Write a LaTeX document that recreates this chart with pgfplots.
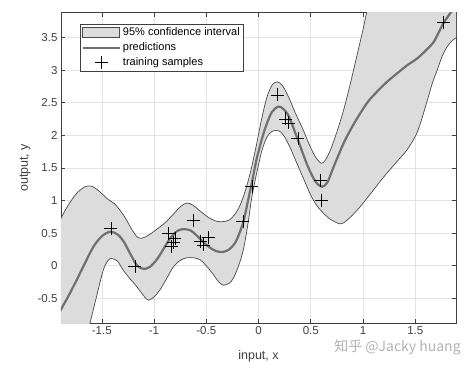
\documentclass[border=0pt]{standalone}
\usepackage{pgfplots}
\pgfplotsset{compat=1.18}
\usepgfplotslibrary{fillbetween}
\usepackage{fontspec}
\setmainfont{Liberation Sans}
\newfontfamily\cjk{Noto Sans CJK SC}
\definecolor{bandfill}{HTML}{DCDCDC}
\definecolor{bandedge}{HTML}{4A4A4A}
\definecolor{meancol}{HTML}{707070}
\definecolor{axcol}{HTML}{404040}
\definecolor{gridcol}{HTML}{E3E3E3}

\pgfplotstableread{
x y
-1.95 0.55
-1.90 0.70
-1.82 0.93
-1.74 1.11
-1.66 1.21
-1.60 1.22
-1.53 1.15
-1.45 1.03
-1.38 0.95
-1.33 0.86
-1.27 0.72
-1.21 0.55
-1.16 0.44
-1.12 0.42
-1.06 0.46
-0.98 0.55
-0.90 0.65
-0.82 0.78
-0.75 0.90
-0.69 0.96
-0.63 0.93
-0.56 0.84
-0.48 0.74
-0.40 0.68
-0.34 0.675
-0.28 0.70
-0.22 0.80
-0.17 0.95
-0.12 1.18
-0.07 1.48
-0.02 1.85
0.03 2.25
0.08 2.58
0.13 2.77
0.18 2.82
0.23 2.76
0.29 2.58
0.35 2.35
0.42 2.11
0.48 1.88
0.54 1.68
0.60 1.57
0.64 1.62
0.69 1.78
0.75 2.05
0.815 2.39
0.88 2.80
0.94 3.21
1.00 3.62
1.04 3.92
1.10 4.30
1.20 4.70
1.40 5.10
1.60 5.40
1.80 5.60
1.95 5.70
}\bandhi

\pgfplotstableread{
x y
-1.95 -2.60
-1.85 -2.15
-1.75 -1.60
-1.65 -1.10
-1.613 -0.885
-1.55 -0.475
-1.486 -0.07
-1.44 0.08
-1.406 0.11
-1.35 0.07
-1.294 -0.07
-1.23 -0.20
-1.166 -0.32
-1.10 -0.46
-1.055 -0.53
-1.00 -0.48
-0.942 -0.37
-0.88 -0.20
-0.815 -0.02
-0.75 0.08
-0.687 0.12
-0.62 0.12
-0.559 0.09
-0.50 0.00
-0.431 -0.14
-0.38 -0.25
-0.336 -0.30
-0.28 -0.27
-0.24 -0.19
-0.19 0.00
-0.144 0.25
-0.10 0.65
-0.064 1.05
-0.02 1.40
0.03 1.75
0.08 1.97
0.13 2.06
0.19 2.07
0.24 2.00
0.30 1.82
0.37 1.56
0.44 1.30
0.50 1.08
0.55 0.94
0.60 0.84
0.68 0.72
0.783 0.64
0.85 0.70
0.96 0.88
1.09 1.14
1.198 1.36
1.31 1.57
1.423 1.78
1.52 2.05
1.60 2.45
1.66 2.78
1.71 3.00
1.76 3.22
1.806 3.36
1.86 3.46
1.95 3.56
}\bandlo

\pgfplotstableread{
x y
-1.95 -0.85
-1.90 -0.70
-1.82 -0.47
-1.74 -0.22
-1.66 0.04
-1.58 0.29
-1.50 0.45
-1.42 0.52
-1.35 0.48
-1.29 0.37
-1.22 0.16
-1.16 0.00
-1.10 -0.05
-1.04 -0.02
-0.97 0.10
-0.90 0.28
-0.84 0.43
-0.78 0.53
-0.72 0.56
-0.65 0.54
-0.59 0.46
-0.52 0.35
-0.46 0.27
-0.40 0.22
-0.34 0.21
-0.28 0.25
-0.22 0.36
-0.17 0.55
-0.14 0.70
-0.10 1.00
-0.06 1.30
-0.02 1.62
0.03 1.93
0.08 2.18
0.13 2.36
0.19 2.44
0.24 2.40
0.29 2.29
0.37 1.96
0.46 1.57
0.52 1.36
0.56 1.26
0.61 1.21
0.66 1.28
0.72 1.52
0.815 1.88
0.90 2.14
0.975 2.34
1.05 2.52
1.135 2.67
1.23 2.82
1.327 2.95
1.42 3.07
1.52 3.18
1.60 3.30
1.68 3.44
1.77 3.72
1.87 3.95
1.95 4.15
}\meantab

\pgfplotstableread{
x y
-1.412 0.568
-1.182 -0.015
-0.865 0.50
-0.80 0.42
-0.815 0.355
-0.83 0.29
-0.623 0.70
-0.559 0.368
-0.527 0.318
-0.479 0.43
-0.15 0.68
-0.064 1.21
0.180 2.62
0.260 2.25
0.285 2.19
0.377 1.95
0.592 1.31
0.60 1.00
1.773 3.73
}\samptab

\begin{document}
\begin{tikzpicture}
\begin{axis}[
  at={(0,0)}, anchor=south west,
  scale only axis, width=395pt, height=310.3pt,
  xmin=-1.89, xmax=1.89, ymin=-0.88, ymax=3.88,
  xtick={-1.5,-1,...,1.5}, ytick={-0.5,0,...,3.5},
  tick align=inside, major tick length=4pt,
  axis line style={axcol, line width=0.7pt},
  tick style={axcol, line width=0.5pt},
  grid=major, major grid style={gridcol, line width=0.5pt},
  /pgf/number format/assume math mode=true,
  tick label style={font=\fontsize{11.5}{13}\selectfont, text=axcol},
  xlabel={input, x}, ylabel={output, y},
  label style={font=\fontsize{12.5}{14}\selectfont, text=axcol},
  xlabel style={anchor=center, at={(axis description cs:0.5,-0.106)}},
  ylabel style={anchor=center, at={(axis description cs:-0.091,0.5)}},
  legend cell align=left,
  legend style={at={(0.048,0.963)}, anchor=north west, draw=axcol, line width=0.6pt,
    fill=white, font=\fontsize{11}{12}\selectfont, inner sep=1.5pt, row sep=1.5pt,
    /tikz/every even column/.append style={column sep=1pt}},
]
\addplot[name path=U, draw=none, forget plot, smooth] table {\bandhi};
\addplot[name path=L, draw=none, forget plot, smooth] table {\bandlo};
\addplot[bandfill, forget plot] fill between[of=U and L];
\addplot[bandedge, line width=0.7pt, smooth, forget plot] table {\bandhi};
\addplot[bandedge, line width=0.7pt, smooth, forget plot] table {\bandlo};
\addplot[meancol, line width=2.2pt, smooth, forget plot] table {\meantab};
\addplot[only marks, mark=+, mark size=6.5pt, black, line width=0.6pt, forget plot] table {\samptab};

\addlegendimage{legend image code/.code={\draw[fill=bandfill, draw=bandedge, line width=0.8pt] (0pt,-5pt) rectangle (37pt,5pt);}}
\addlegendentry{95\% confidence interval}
\addlegendimage{legend image code/.code={\draw[meancol, line width=2.2pt] (0pt,0pt) -- (37pt,0pt);}}
\addlegendentry{predictions}
\addlegendimage{legend image code/.code={\draw[black, line width=0.6pt] (18.5pt,-6.5pt) -- (18.5pt,6.5pt) (12pt,0pt) -- (25pt,0pt);}}
\addlegendentry{training samples}
\end{axis}
\node[anchor=center, text=black!30, font=\cjk\fontsize{14}{16}\selectfont] at (336.5pt,-24pt) {知乎 @Jacky huang};
\pgfresetboundingbox
\path[use as bounding box] (-61pt,-45pt) rectangle (413pt,323pt);
\end{tikzpicture}
\end{document}
